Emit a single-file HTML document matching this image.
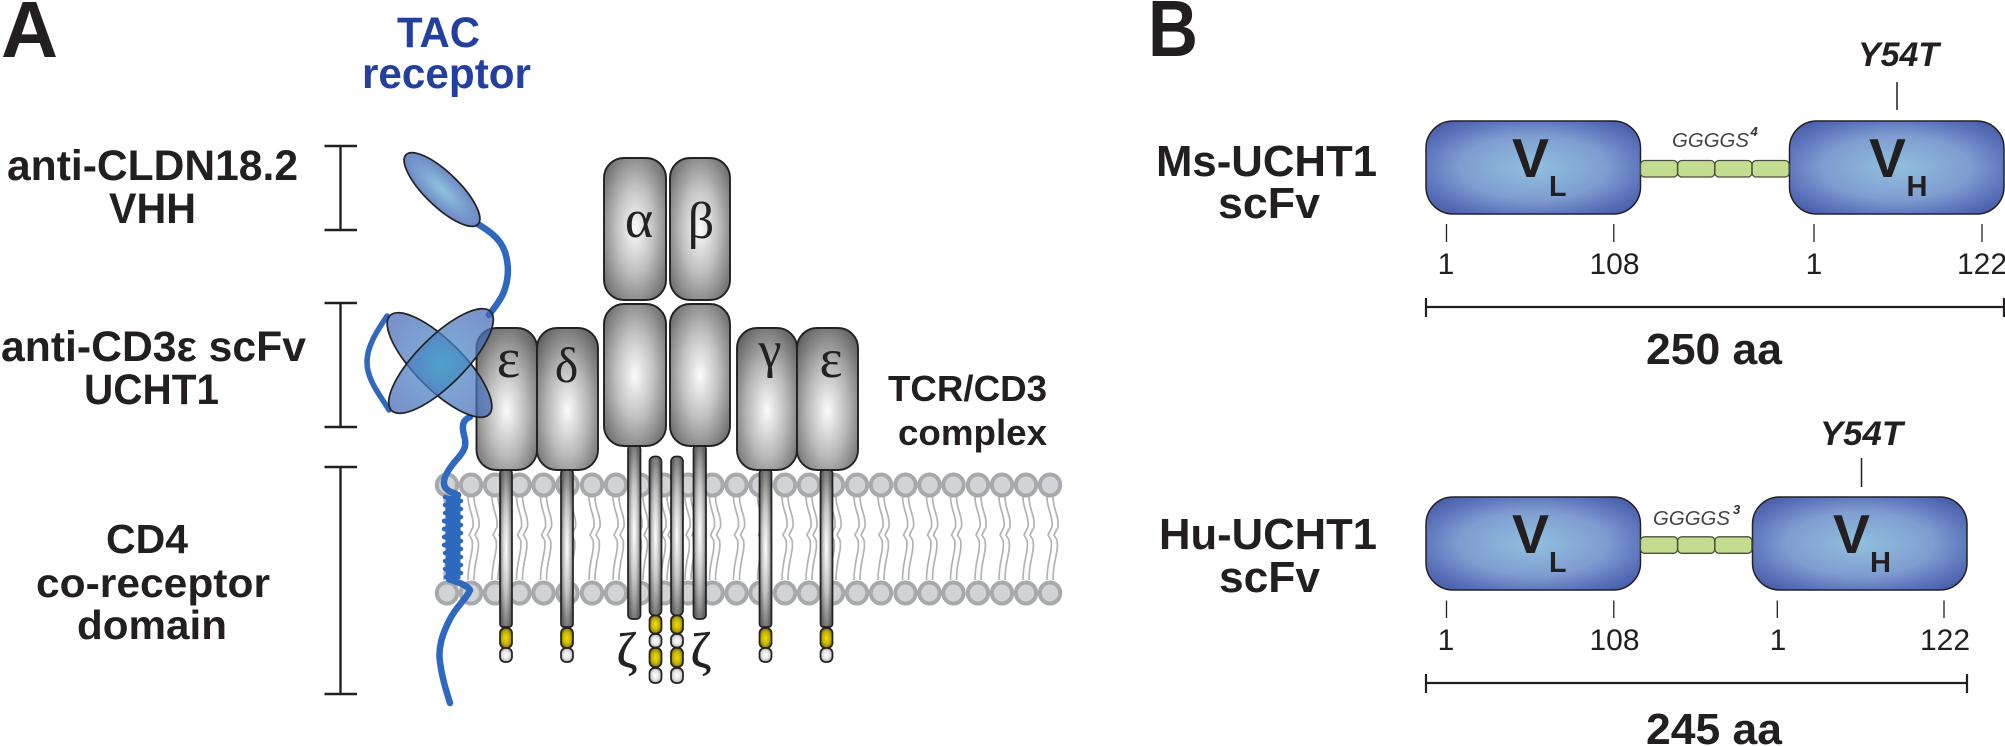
<!DOCTYPE html>
<html><head><meta charset="utf-8"><style>
html,body{margin:0;padding:0;background:#fff;width:2005px;height:746px;overflow:hidden}
svg{display:block}
text{font-family:"Liberation Sans",sans-serif;fill:#231f20}
.b{font-weight:bold}
.s{font-family:"Liberation Serif",serif;fill:#222}
</style></head><body>
<svg width="2005" height="746" viewBox="0 0 2005 746" xmlns="http://www.w3.org/2000/svg">
<defs>
<radialGradient id="g" cx=".5" cy=".5" r=".68"><stop offset="0" stop-color="#fbfbfb"/><stop offset=".45" stop-color="#c0c0c0"/><stop offset="1" stop-color="#606060"/></radialGradient>
<radialGradient id="ge" cx=".5" cy=".58" r=".66"><stop offset="0" stop-color="#fbfbfb"/><stop offset=".5" stop-color="#b8b8b8"/><stop offset="1" stop-color="#646464"/></radialGradient>
<radialGradient id="st" cx=".5" cy=".5" r=".56"><stop offset="0" stop-color="#fff"/><stop offset=".5" stop-color="#c4c4c4"/><stop offset="1" stop-color="#646464"/></radialGradient>
<radialGradient id="y" cx=".5" cy=".5" r=".6"><stop offset="0" stop-color="#f0de00"/><stop offset=".55" stop-color="#c4b000"/><stop offset="1" stop-color="#5f5500"/></radialGradient>
<radialGradient id="w" cx=".5" cy=".5" r=".6"><stop offset="0" stop-color="#fff"/><stop offset=".5" stop-color="#e6e6e6"/><stop offset="1" stop-color="#888"/></radialGradient>
<radialGradient id="v" cx=".5" cy=".5" r=".62"><stop offset="0" stop-color="#90c0de"/><stop offset=".55" stop-color="#7f9dd0"/><stop offset=".8" stop-color="#6079bf"/><stop offset="1" stop-color="#4c60ac"/></radialGradient>
<radialGradient id="e1" cx=".5" cy=".5" r=".55"><stop offset="0" stop-color="#8fc2dd"/><stop offset="1" stop-color="#6a82c4"/></radialGradient>
<radialGradient id="e2" gradientUnits="userSpaceOnUse" cx="440" cy="363" r="72"><stop offset="0" stop-color="#3f9ac6"/><stop offset=".45" stop-color="#4a7cc0"/><stop offset="1" stop-color="#4463b4"/></radialGradient>
<g id="lip" fill="none" stroke="#b1b3b6" stroke-width="1.7">
<path d="M-3,497 C-3,509 3,515 2,527 L-2,535 L1,540 C3,552 -3,560 -3,580"/>
<path d="M3,497 C3,509 9,515 8,527 L4,535 L7,540 C9,552 3,560 3,580"/>
</g>
<g id="h"><ellipse cx="0" cy="0" rx="10.200" ry="10.500" fill="#d1d3d4" stroke="#a7a9ac" stroke-width="4"/></g>
<g id="sl">
<rect x="0" y="0" width="12" height="157" rx="3" fill="url(#st)" stroke="#222" stroke-width="1.700"/>
<rect x="0" y="158" width="12" height="20" rx="5" fill="url(#y)" stroke="#222" stroke-width="1.700"/>
<rect x="0" y="178" width="12" height="14" rx="5" fill="url(#w)" stroke="#222" stroke-width="1.700"/>
</g>
<g id="z">
<rect x="0" y="456.500" width="12" height="159" rx="5" fill="url(#st)" stroke="#222" stroke-width="1.700"/>
<rect x="0" y="615.500" width="12" height="18" rx="5" fill="url(#y)" stroke="#222" stroke-width="1.700"/>
<rect x="0" y="634" width="12" height="13.500" rx="5" fill="url(#w)" stroke="#222" stroke-width="1.700"/>
<rect x="0" y="648" width="12" height="19" rx="5" fill="url(#y)" stroke="#222" stroke-width="1.700"/>
<rect x="0" y="668" width="12" height="15" rx="5" fill="url(#w)" stroke="#222" stroke-width="1.700"/>
</g>
<g id="lb"><rect x="0" y="0" width="37" height="16.500" rx="4" fill="#c3dc90" stroke="#4a4f3c" stroke-width="1.300"/></g>
</defs>
<rect width="2005" height="746" fill="#fff"/>

<text class="b" x="1" y="57" font-size="80" textLength="57" lengthAdjust="spacingAndGlyphs">A</text>
<text class="b" x="1148" y="56" font-size="80" textLength="50" lengthAdjust="spacingAndGlyphs">B</text>

<text class="b" x="397" y="47" font-size="43" style="fill:#2340a0" textLength="83" lengthAdjust="spacingAndGlyphs">TAC</text>
<text class="b" x="362" y="88" font-size="43" style="fill:#2340a0" textLength="169" lengthAdjust="spacingAndGlyphs">receptor</text>
<text class="b" x="7" y="180" font-size="42.500" textLength="291" lengthAdjust="spacingAndGlyphs">anti-CLDN18.2</text>
<text class="b" x="109" y="223" font-size="42.500" textLength="87" lengthAdjust="spacingAndGlyphs">VHH</text>
<text class="b" x="1" y="361" font-size="42.500" textLength="305" lengthAdjust="spacingAndGlyphs">anti-CD3ε scFv</text>
<text class="b" x="84" y="404" font-size="42.500" textLength="135" lengthAdjust="spacingAndGlyphs">UCHT1</text>
<text class="b" x="106" y="553" font-size="41" textLength="82" lengthAdjust="spacingAndGlyphs">CD4</text>
<text class="b" x="36" y="597" font-size="41" textLength="234" lengthAdjust="spacingAndGlyphs">co-receptor</text>
<text class="b" x="77" y="639" font-size="41" textLength="150" lengthAdjust="spacingAndGlyphs">domain</text>
<text class="b" x="888" y="401" font-size="36.500" textLength="159" lengthAdjust="spacingAndGlyphs">TCR/CD3</text>
<text class="b" x="898" y="445" font-size="36.500" textLength="149" lengthAdjust="spacingAndGlyphs">complex</text>

<g stroke="#231f20" stroke-width="2.400" fill="none">
<path d="M324.500,146H357M340.500,146V230M324.500,230H357"/>
<path d="M324.500,303H357M340.500,303V427M324.500,427H357"/>
<path d="M324.500,467H357M340.500,467V694M324.500,694H357"/>
</g>

<!-- lipid tails -->
<use href="#lip" x="447"/><use href="#lip" x="471"/><use href="#lip" x="495"/><use href="#lip" x="519.500"/><use href="#lip" x="543.500"/><use href="#lip" x="567.500"/><use href="#lip" x="592"/><use href="#lip" x="616"/><use href="#lip" x="640"/><use href="#lip" x="664"/><use href="#lip" x="688"/><use href="#lip" x="712.500"/><use href="#lip" x="736.500"/><use href="#lip" x="760.500"/><use href="#lip" x="785"/><use href="#lip" x="809"/><use href="#lip" x="833"/><use href="#lip" x="857"/><use href="#lip" x="881"/><use href="#lip" x="905.500"/><use href="#lip" x="929.500"/><use href="#lip" x="953.500"/><use href="#lip" x="978"/><use href="#lip" x="1002"/><use href="#lip" x="1026"/><use href="#lip" x="1050"/>
<!-- lipid heads -->
<g>
<use href="#h" x="447" y="485"/><use href="#h" x="471" y="485"/><use href="#h" x="495" y="485"/><use href="#h" x="519.500" y="485"/><use href="#h" x="543.500" y="485"/><use href="#h" x="567.500" y="485"/><use href="#h" x="592" y="485"/><use href="#h" x="616" y="485"/><use href="#h" x="640" y="485"/><use href="#h" x="664" y="485"/><use href="#h" x="688" y="485"/><use href="#h" x="712.500" y="485"/><use href="#h" x="736.500" y="485"/><use href="#h" x="760.500" y="485"/><use href="#h" x="785" y="485"/><use href="#h" x="809" y="485"/><use href="#h" x="833" y="485"/><use href="#h" x="857" y="485"/><use href="#h" x="881" y="485"/><use href="#h" x="905.500" y="485"/><use href="#h" x="929.500" y="485"/><use href="#h" x="953.500" y="485"/><use href="#h" x="978" y="485"/><use href="#h" x="1002" y="485"/><use href="#h" x="1026" y="485"/><use href="#h" x="1050" y="485"/>
<use href="#h" x="447" y="593"/><use href="#h" x="471" y="593"/><use href="#h" x="495" y="593"/><use href="#h" x="519.500" y="593"/><use href="#h" x="543.500" y="593"/><use href="#h" x="567.500" y="593"/><use href="#h" x="592" y="593"/><use href="#h" x="616" y="593"/><use href="#h" x="640" y="593"/><use href="#h" x="664" y="593"/><use href="#h" x="688" y="593"/><use href="#h" x="712.500" y="593"/><use href="#h" x="736.500" y="593"/><use href="#h" x="760.500" y="593"/><use href="#h" x="785" y="593"/><use href="#h" x="809" y="593"/><use href="#h" x="833" y="593"/><use href="#h" x="857" y="593"/><use href="#h" x="881" y="593"/><use href="#h" x="905.500" y="593"/><use href="#h" x="929.500" y="593"/><use href="#h" x="953.500" y="593"/><use href="#h" x="978" y="593"/><use href="#h" x="1002" y="593"/><use href="#h" x="1026" y="593"/><use href="#h" x="1050" y="593"/>
</g>

<!-- stalks -->
<use href="#sl" x="500" y="470"/><use href="#sl" x="561" y="470"/><use href="#sl" x="759.500" y="470"/><use href="#sl" x="820.500" y="470"/>
<rect x="628" y="445" width="12.500" height="174" rx="4" fill="url(#st)" stroke="#222" stroke-width="1.700"/>
<rect x="693.500" y="445" width="12.500" height="174" rx="4" fill="url(#st)" stroke="#222" stroke-width="1.700"/>
<use href="#z" x="649.500"/><use href="#z" x="671"/>

<!-- gray subunits -->
<g stroke="#222" stroke-width="1.900">
<rect x="604" y="158" width="62" height="142" rx="20" fill="url(#g)"/>
<rect x="670" y="158" width="60" height="142" rx="20" fill="url(#g)"/>
<rect x="604" y="304" width="62" height="142" rx="20" fill="url(#g)"/>
<rect x="670" y="304" width="60" height="142" rx="20" fill="url(#g)"/>
<rect x="476.500" y="328" width="60.500" height="142" rx="20" fill="url(#ge)"/>
<rect x="537" y="328" width="61" height="142" rx="20" fill="url(#ge)"/>
<rect x="737" y="328" width="60" height="142" rx="20" fill="url(#ge)"/>
<rect x="797" y="328" width="61" height="142" rx="20" fill="url(#ge)"/>
</g>
<text class="s" x="639" y="237" font-size="54" text-anchor="middle">α</text>
<text class="s" x="701" y="238" font-size="52" text-anchor="middle">β</text>
<text class="s" x="508.500" y="377" font-size="56" text-anchor="middle">ε</text>
<text class="s" x="566.500" y="382" font-size="50" text-anchor="middle">δ</text>
<text class="s" x="770" y="367" font-size="52" text-anchor="middle">γ</text>
<text class="s" x="831" y="377" font-size="55" text-anchor="middle">ε</text>
<text class="s" x="627" y="667" font-size="50" text-anchor="middle" stroke="#222" stroke-width=".6">ζ</text>
<text class="s" x="701" y="667" font-size="50" text-anchor="middle" stroke="#222" stroke-width=".6">ζ</text>

<!-- blue chain -->
<g fill="none" stroke="#2f68bf" stroke-linecap="round" stroke-linejoin="round">
<path stroke-width="6.500" d="M476,223 C486,229 500,237 505,252 C510,268 508,282 503,294 C498,304 494,308 489,315"/>
<path stroke-width="5.500" d="M387,316 C378,330 367,345 367,362 C367,380 380,395 389,410"/>
<path stroke-width="6.500" d="M470,417 C462,420 462,427 464,435 C467,445 465,450 458,458 C450,467 443,477 444,484 C445,491 452,492 458,495"/>
<path stroke-width="4.500" d="M445,497 L461,501 L445,505 L461,509 L445,513 L461,517 L444,521 L461,525 L444,529 L461,533 L444,537 L461,541 L444,545 L461,549 L445,553 L461,557 L445,561 L461,565 L445,569 L461,573 L446,577"/>
<path stroke-width="15" stroke-linecap="butt" d="M453,496 V579"/>
<path stroke-width="6.500" d="M449,579 C456,582 466,584 470,590 C466,600 456,606 449,621 C442,635 438,648 440,662 C442,678 446,690 450,703"/>
</g>

<!-- antibody ellipses -->
<ellipse cx="442" cy="189.500" rx="50" ry="17" transform="rotate(44 442 189.500)" fill="url(#e1)" stroke="#222" stroke-width="1.700"/>
<ellipse cx="439.500" cy="365" rx="70" ry="24" transform="rotate(45 439.500 365)" fill="url(#e2)" fill-opacity=".72" stroke="#222" stroke-width="1.700"/>
<ellipse cx="441" cy="361" rx="70" ry="24" transform="rotate(-45 441 361)" fill="url(#e2)" fill-opacity=".72" stroke="#222" stroke-width="1.700"/>

<!-- Panel B upper -->
<text class="b" x="1858" y="66" font-size="34" font-style="italic" textLength="81" lengthAdjust="spacingAndGlyphs">Y54T</text>
<path d="M1897,82V110" stroke="#231f20" stroke-width="1.500"/>
<text class="b" x="1156" y="176" font-size="43.500" textLength="221" lengthAdjust="spacingAndGlyphs">Ms-UCHT1</text>
<text class="b" x="1218" y="218" font-size="43.500" textLength="102" lengthAdjust="spacingAndGlyphs">scFv</text>
<rect x="1426" y="121" width="214.500" height="93" rx="27" ry="27" fill="url(#v)" stroke="#222" stroke-width="1.500"/>
<rect x="1789.500" y="121" width="214.500" height="93" rx="27" ry="27" fill="url(#v)" stroke="#222" stroke-width="1.500"/>
<use href="#lb" x="1640.500" y="160.500"/><use href="#lb" x="1677.700" y="160.500"/><use href="#lb" x="1714.900" y="160.500"/><use href="#lb" x="1752.100" y="160.500"/>
<text class="b" x="1512" y="177" font-size="55" textLength="37" lengthAdjust="spacingAndGlyphs">V</text>
<text class="b" x="1549" y="196" font-size="29" textLength="17.500" lengthAdjust="spacingAndGlyphs">L</text>
<text class="b" x="1869" y="177" font-size="55" textLength="37" lengthAdjust="spacingAndGlyphs">V</text>
<text class="b" x="1906.500" y="196" font-size="29" textLength="21" lengthAdjust="spacingAndGlyphs">H</text>
<text x="1672" y="147" font-size="20" font-style="italic" textLength="77" lengthAdjust="spacingAndGlyphs" style="fill:#444">GGGGS</text>
<text x="1750.500" y="136" font-size="13" font-style="italic" font-weight="bold" style="fill:#333">4</text>
<path d="M1446.500,224V242M1613.800,224V242M1814,224V242M1982,224V242" stroke="#231f20" stroke-width="1.300"/>
<g font-size="30" text-anchor="middle">
<text x="1446" y="274">1</text><text x="1614.500" y="274">108</text><text x="1814" y="274">1</text><text x="1982" y="274">122</text>
</g>
<path d="M1426,298V317M1426,307H2004M2004,298V317" stroke="#231f20" stroke-width="2.200" fill="none"/>
<text class="b" x="1646" y="364" font-size="44" textLength="136" lengthAdjust="spacingAndGlyphs">250 aa</text>

<!-- Panel B lower -->
<text class="b" x="1820" y="445" font-size="34" font-style="italic" textLength="83" lengthAdjust="spacingAndGlyphs">Y54T</text>
<path d="M1861.500,458V487" stroke="#231f20" stroke-width="1.500"/>
<text class="b" x="1159" y="549" font-size="43.500" textLength="218" lengthAdjust="spacingAndGlyphs">Hu-UCHT1</text>
<text class="b" x="1219" y="592" font-size="43.500" textLength="101" lengthAdjust="spacingAndGlyphs">scFv</text>
<rect x="1426" y="497" width="214.500" height="93" rx="27" ry="27" fill="url(#v)" stroke="#222" stroke-width="1.500"/>
<rect x="1752.500" y="497" width="214.500" height="93" rx="27" ry="27" fill="url(#v)" stroke="#222" stroke-width="1.500"/>
<use href="#lb" x="1640.500" y="536.800"/><use href="#lb" x="1677.700" y="536.800"/><use href="#lb" x="1714.900" y="536.800"/>
<text class="b" x="1512" y="553" font-size="55" textLength="37" lengthAdjust="spacingAndGlyphs">V</text>
<text class="b" x="1549" y="572" font-size="29" textLength="17.500" lengthAdjust="spacingAndGlyphs">L</text>
<text class="b" x="1833" y="553" font-size="55" textLength="37" lengthAdjust="spacingAndGlyphs">V</text>
<text class="b" x="1870" y="572" font-size="29" textLength="21" lengthAdjust="spacingAndGlyphs">H</text>
<text x="1653" y="525" font-size="20" font-style="italic" textLength="77" lengthAdjust="spacingAndGlyphs" style="fill:#444">GGGGS</text>
<text x="1733" y="514" font-size="13" font-style="italic" font-weight="bold" style="fill:#333">3</text>
<path d="M1446.500,600.500V618M1613.800,600.500V618M1777.300,600.500V618M1944,600.500V618" stroke="#231f20" stroke-width="1.300"/>
<g font-size="30" text-anchor="middle">
<text x="1446" y="650">1</text><text x="1614.500" y="650">108</text><text x="1778" y="650">1</text><text x="1945" y="650">122</text>
</g>
<path d="M1426,674V693M1426,683H1967M1967,674V693" stroke="#231f20" stroke-width="2.200" fill="none"/>
<text class="b" x="1646" y="744" font-size="44" textLength="136" lengthAdjust="spacingAndGlyphs">245 aa</text>
</svg>
</body></html>
